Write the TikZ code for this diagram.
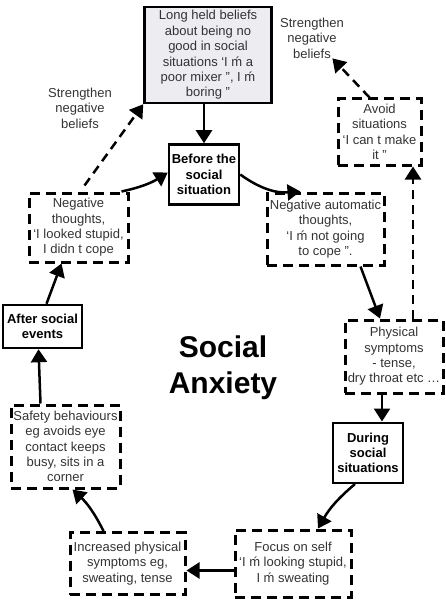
\documentclass[tikz,border=0pt]{standalone}
\usepackage{fontspec}
\setmainfont{Liberation Sans}
\usetikzlibrary{positioning,arrows.meta}
\definecolor{beliefgray}{RGB}{236,236,241}
\tikzset{
>={Triangle[length=13pt,width=16pt]},
  line/.style={draw, line width=2.5pt, ->},
  dashline/.style={draw, line width=2.5pt, dash pattern=on 9pt off 6pt, ->},
}

\begin{document}
\begin{tikzpicture}[x=1pt, y=-1pt, font=\fontsize{13}{15.4}\selectfont]
  \tikzset{
      stage/.style={rectangle, draw=black, line width=2.5pt, font=\fontsize{13}{15.4}\selectfont\bfseries, inner sep=2pt, align=center},
      belief/.style={rectangle, draw=black, line width=2.5pt, fill=beliefgray, text=black!80, inner sep=2pt, align=center},
      thought/.style={rectangle, draw=black, line width=3pt, dash pattern=on 10pt off 6pt, text=black!80, inner sep=2pt, align=center},
      note/.style={text=black!80, inner sep=0pt, align=center},
  }
  \useasboundingbox (0,0) rectangle (446,604);

  \node[belief, minimum width=127pt, minimum height=96pt] (beliefs) at (208,55) {Long held beliefs\\about being no\\good in social\\situations ‘I \'m a\\poor mixer ”, I \'m\\boring ”};
  \node[stage, below=39pt of beliefs, xshift=-4pt, minimum width=70pt, minimum height=60pt] (before) {Before the\\social\\situation};
  \node[thought, minimum width=99pt, minimum height=69pt] (negthoughts) at (78.5,227.5) {Negative\\thoughts,\\‘I looked stupid,\\I didn t cope};
  \node[thought, minimum width=117pt, minimum height=72pt] (nat) at (325.5,229) {Negative automatic\\thoughts,\\‘I \'m not going\\to cope ”.};
  \node[thought, minimum width=83pt, minimum height=66pt] (avoid) at (379.5,132) {Avoid\\situations\\‘I can t make\\it ”};
  \node[stage, minimum width=79pt, minimum height=43pt] (after) at (42.5,326.5) {After social\\events};
  \node[thought, minimum width=98pt, minimum height=73pt] (physical) at (394,356.5) {Physical\\symptoms\\- tense,\\dry throat etc …};
  \node[stage, below=27pt of physical, xshift=-26pt, minimum width=70pt, minimum height=60pt] (during) {During\\social\\situations};
  \node[thought, minimum width=116pt, minimum height=67pt] (focus) at (293,563.5) {Focus on self\\‘I \'m looking stupid,\\I \'m sweating};
  \node[thought, left=47pt of focus, minimum width=115pt, minimum height=62pt] (increased) {Increased physical\\symptoms eg,\\sweating, tense};
  \node[thought, minimum width=109pt, minimum height=83pt] (safety) at (65.5,446.5) {Safety behaviours\\eg  avoids eye\\contact keeps\\busy, sits in a\\corner};
  \node[note] (strongleft) at (80,108) {Strengthen\\negative\\beliefs};
  \node[note] (strongright) at (312,38) {Strengthen\\negative\\beliefs};
  \node[font=\fontsize{30}{36}\selectfont\bfseries, align=center] (title) at (223,368) {Social\\Anxiety};

  \path[line] (before.north |- beliefs.south) -- (before.north);
  \path[line] (before.east) to[bend right=20] ([xshift=-25pt]nat.north);
  \path[line] ([xshift=35pt]nat.south) -- ([xshift=-14pt]physical.north);
  \path[line] ([xshift=-12pt]physical.south) -- ([xshift=-12pt]physical.south |- during.north);
  \path[dashline] ([xshift=19pt]physical.north) -- ([xshift=19pt]physical.north |- avoid.south);
  \path[dashline] ([xshift=-10pt]avoid.north) -- (strongright.-45);
  \path[line] ([xshift=-13pt]during.south) to[bend right=10] ([xshift=25pt]focus.north);
  \path[line] ([yshift=-7pt]focus.west) -- ([yshift=-7pt]increased.east);
  \path[line] ([xshift=-24pt]increased.north) to[bend right=10] ([xshift=7pt]safety.south);
  \path[line] ([xshift=-25pt]safety.north) -- ([xshift=-4pt]after.south);
  \path[line] ([xshift=4pt]after.north) -- ([xshift=-17pt]negthoughts.south);
  \path[line] ([xshift=-8pt]negthoughts.north east) to[bend right=10] ([yshift=2pt]before.west);
  \path[dashline] ([xshift=6pt,yshift=6pt]negthoughts.north) -- (beliefs.south west);
\end{tikzpicture}
\end{document}
